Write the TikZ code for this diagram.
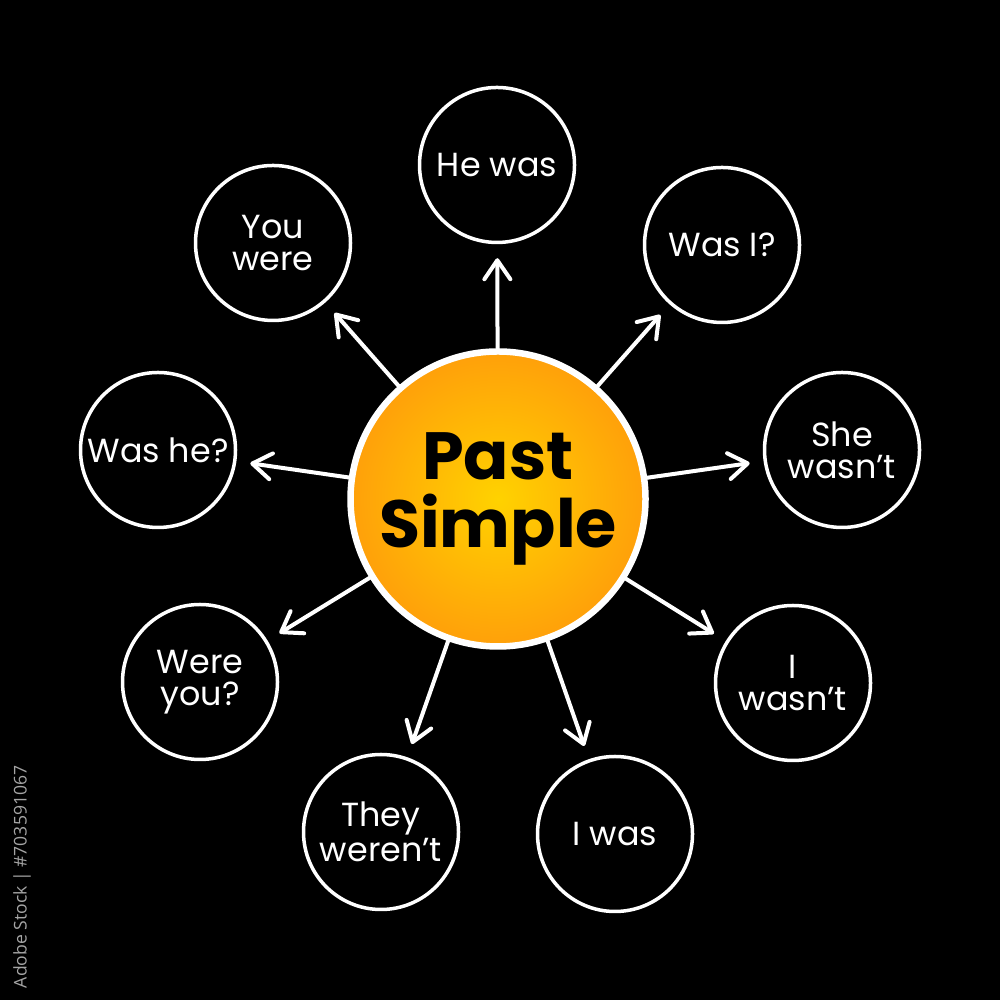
\documentclass[tikz,border=0pt]{standalone}
\usepackage{fontspec}
\setmainfont{Poppins}
\newfontfamily\stockfont{Open Sans}
\usepackage{tikz}
\usetikzlibrary{arrows.meta}
\definecolor{sunyellow}{RGB}{255,210,0}
\definecolor{sunorange}{RGB}{255,160,10}
\definecolor{stockgray}{RGB}{165,165,165}

\begin{document}
\begin{tikzpicture}[
  >={Straight Barb[length=1.9mm, width=2.6mm, round]},
  every node/.style={font=\fontsize{9.5}{9}\selectfont},
  bubble/.style={circle, draw=white, line width=0.35mm, minimum size=1.55cm, inner sep=0pt, align=center, text=white},
  core/.style={circle, draw=white, line width=0.65mm, minimum size=2.95cm, inner sep=0pt, align=center, inner color=sunyellow, outer color=sunorange, font=\bfseries\fontsize{19}{19.5}\selectfont},
  link/.style={->, white, line width=0.4mm, line cap=round, shorten >=1.4mm}
]
% Black board
\fill[black] (0,0) rectangle (10,10);
\useasboundingbox (0,0) rectangle (10,10);

% Centre
\node[core] (past) at (4.98, 5.01) {Past\\Simple};

% Ring of forms, clockwise from the top
\node[bubble] (hewas) at (4.97, 8.35) {He was};
\node[bubble] (wasi) at (7.22, 7.55) {Was I?};
\node[bubble] (shewasnt) at (8.42, 5.50) {She\\wasn't};
\node[bubble] (iwasnt) at (7.93, 3.17) {I\\wasn't};
\node[bubble] (iwas) at (6.15, 1.66) {I was};
\node[bubble] (theywerent) at (3.81, 1.68) {They\\weren't};
\node[bubble] (wereyou) at (2.00, 3.18) {Were\\you?};
\node[bubble] (washe) at (1.58, 5.50) {Was he?};
\node[bubble] (youwere) at (2.73, 7.57) {You\\were};

% Arrows out of the centre
\foreach \form in {hewas, wasi, shewasnt, iwasnt, iwas, theywerent, wereyou, washe, youwere}
  \draw[link] (past) -- (\form);

% Stock id along the left edge
\node[rotate=90, anchor=east, text=stockgray, inner sep=0pt, font=\stockfont\fontsize{5}{6}\selectfont] (stockid) at (0.22, 2.35) {Adobe Stock | \#703591067};

\end{tikzpicture}
\end{document}
